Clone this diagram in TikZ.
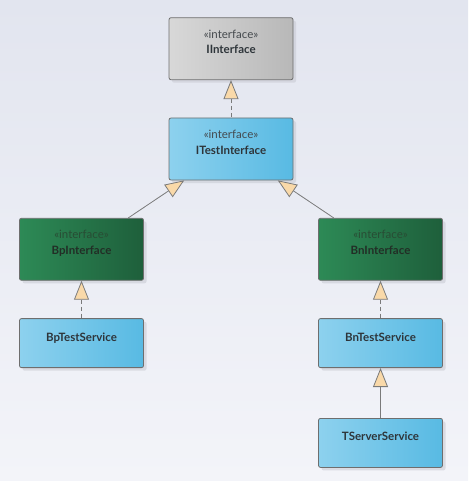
\documentclass[tikz,border=0pt]{standalone}
\usepackage{fontspec}
\setmainfont{Lato}
\usetikzlibrary{trees,arrows.meta,shadows}

\definecolor{bgtop}{HTML}{E2E5EF}
\definecolor{bgbottom}{HTML}{F3F4F9}
\definecolor{edgegray}{HTML}{7A7A7A}
\definecolor{boxborder}{HTML}{6E6E6E}
\definecolor{tipfill}{HTML}{F9D9A9}
\definecolor{shadowgray}{HTML}{C4C6CF}
\definecolor{blueleft}{HTML}{8DD1EE}
\definecolor{blueright}{HTML}{58BAE3}
\definecolor{grayleft}{HTML}{D8D8D8}
\definecolor{grayright}{HTML}{B8B8B8}
\definecolor{greenleft}{HTML}{2D8A56}
\definecolor{greenright}{HTML}{1E5F3B}
\definecolor{darktext}{HTML}{2E353A}
\definecolor{greentext}{HTML}{222E26}
\definecolor{stereogray}{HTML}{44494D}
\definecolor{stereogreen}{HTML}{284C34}

\newcommand{\iface}[2]{\parbox[c][62pt][t]{124pt}{\centering\rule{0pt}{20.5pt}\textcolor{#1}{«interface»}\\\textbf{#2}}}

\begin{document}
\begin{tikzpicture}[x=1pt, y=1pt, growth parent anchor=south, level distance=37.5pt, level 2/.style = {sibling distance=299pt}, level 4/.style = {level distance=50pt}, every node/.style = {shape=rectangle, rounded corners=2pt, draw=boxborder, solid, line width=.8pt, inner sep=0pt, minimum width=124pt, anchor=north, text=darktext, font=\fontsize{11.5pt}{15.5pt}\selectfont, drop shadow={shadow xshift=3pt, shadow yshift=-3pt, fill=shadowgray, draw=none}}, grayface/.style = {left color=grayleft, right color=grayright}, blueface/.style = {left color=blueleft, right color=blueright}, greenface/.style = {left color=greenleft, right color=greenright, text=greentext}, service/.style = {blueface, minimum height=49pt, text height=22.5pt, text depth=26.5pt, font=\fontsize{11.5pt}{15.5pt}\selectfont\bfseries}, edge from parent/.style = {draw=edgegray, line width=.8pt, {Triangle[length=19pt,width=15pt,fill=tipfill]}-}, realize/.style = {dash pattern=on 4pt off 3pt}]
\useasboundingbox (0,0) rectangle (468,-481);
\shade[top color=bgtop, bottom color=bgbottom] (0,0) rectangle (468,-481);
\node[grayface] (iinterface) at (231,-17.3) {\iface{stereogray}{IInterface}}
	child { node[blueface] (itest) {\iface{stereogray}{ITestInterface}} edge from parent[realize]
		child { node[greenface] (bpiface) {\iface{stereogreen}{BpInterface}} edge from parent[solid]
			child { node[service] (bptest) {BpTestService} edge from parent[realize] } }
		child { node[greenface] (bniface) {\iface{stereogreen}{BnInterface}} edge from parent[solid]
			child { node[service] (bntest) {BnTestService} edge from parent[realize]
				child { node[service] (tserver) {TServerService} edge from parent[solid] } } } };
\end{tikzpicture}
\end{document}
